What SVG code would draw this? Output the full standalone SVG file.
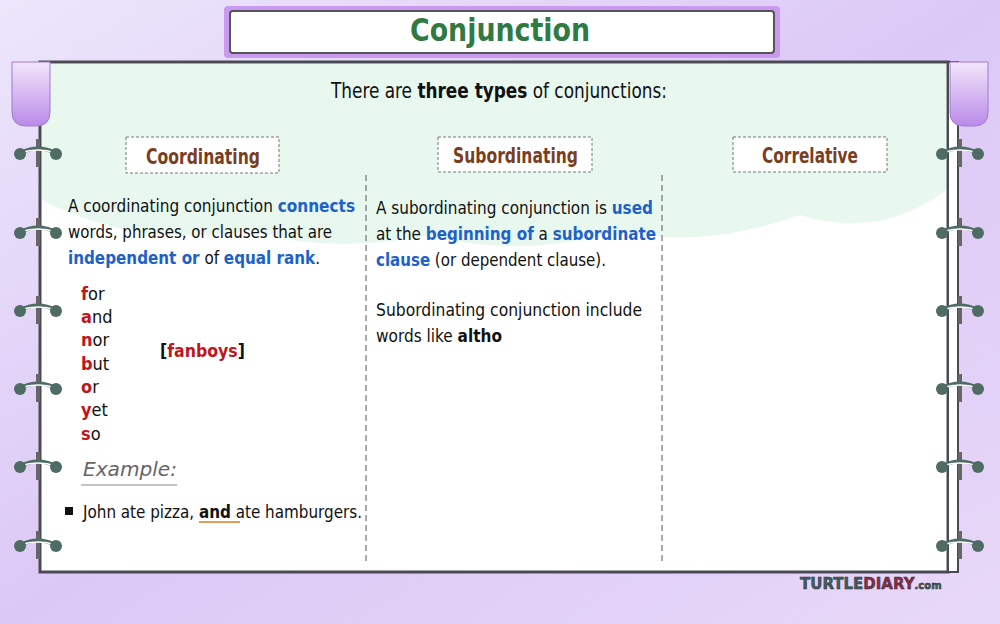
<svg xmlns="http://www.w3.org/2000/svg" width="1000" height="624" viewBox="0 0 1000 624">
<defs>
<linearGradient id="bg" x1="0" y1="0" x2="1" y2="1"><stop offset="0" stop-color="#ece6fb"/><stop offset="0.5" stop-color="#dcc8f6"/><stop offset="1" stop-color="#e8d8f8"/></linearGradient>
<linearGradient id="tab" x1="0" y1="0" x2="0" y2="1"><stop offset="0" stop-color="#f3e6fb"/><stop offset="1" stop-color="#b98ae8"/></linearGradient>
<g id="ring"><line x1="0" y1="-14" x2="0" y2="14" stroke="#666" stroke-width="4"/><path d="M-18 0 Q0 -9 18 0" fill="none" stroke="#4e6b64" stroke-width="4"/><path d="M-18 0 Q0 -6 18 0" fill="none" stroke="#fff" stroke-width="1.5"/><circle cx="-18" cy="1" r="6" fill="#4e6b64"/><circle cx="18" cy="1" r="6" fill="#4e6b64"/></g>
</defs>
<style>
text{font-family:"DejaVu Sans Condensed","Liberation Sans Narrow","Open Sans",sans-serif;font-size:18px;fill:#111}
.b{font-weight:bold}
.bl{fill:#1e62c8;font-weight:bold}
.r{fill:#c0151b;font-weight:bold}
.hd{font-size:21px;font-weight:bold;fill:#7a3e1f}
.box{fill:#fff;stroke:#777;stroke-width:1;stroke-dasharray:3 2}
.div{stroke:#555;stroke-width:1;stroke-dasharray:6 4}
</style>
<rect width="1000" height="624" fill="url(#bg)"/>
<g id="page">
<rect x="40" y="62" width="908" height="510" fill="#fff" stroke="#4a4a55" stroke-width="3"/>
<rect x="948" y="62" width="10" height="510" fill="#fff" stroke="#4a4a55" stroke-width="2"/>
<path d="M42 64 H946 V190 Q880 240 800 215 Q700 250 620 230 Q520 260 430 235 Q330 255 250 230 Q140 250 42 200 Z" fill="#e8f8ef"/>
</g>
<g id="tabs">
<path d="M12 62 H50 V112 Q50 126 36 126 H26 Q12 126 12 112 Z" fill="url(#tab)" stroke="#a07ad0"/>
<path d="M950 62 H988 V112 Q988 126 974 126 H964 Q950 126 950 112 Z" fill="url(#tab)" stroke="#a07ad0"/>
</g>
<g id="rings">
<use href="#ring" x="38" y="153"/><use href="#ring" x="38" y="232"/><use href="#ring" x="38" y="310"/><use href="#ring" x="38" y="388"/><use href="#ring" x="38" y="466"/><use href="#ring" x="38" y="545"/>
<use href="#ring" x="960" y="153"/><use href="#ring" x="960" y="232"/><use href="#ring" x="960" y="310"/><use href="#ring" x="960" y="388"/><use href="#ring" x="960" y="466"/><use href="#ring" x="960" y="545"/>
</g>
<g id="title">
<rect x="224" y="6" width="556" height="52" rx="4" fill="#c99af0"/>
<rect x="230" y="11" width="544" height="42" rx="3" fill="#fff" stroke="#555" stroke-width="2"/>
<text x="410" y="41" textLength="180" lengthAdjust="spacingAndGlyphs" style="font-size:32px;font-weight:bold;fill:#2f7a43">Conjunction</text>
</g>
<text x="331" y="98" textLength="336" lengthAdjust="spacingAndGlyphs" style="font-size:21px">There are <tspan class="b">three types</tspan> of conjunctions:</text>
<g id="coordinating"><rect class="box" x="126" y="137" width="153" height="36"/><text class="hd" x="146" y="164" textLength="114" lengthAdjust="spacingAndGlyphs">Coordinating</text></g>
<g id="subordinating"><rect class="box" x="438" y="137" width="154" height="35"/><text class="hd" x="453" y="163" textLength="125" lengthAdjust="spacingAndGlyphs">Subordinating</text></g>
<g id="correlative"><rect class="box" x="733" y="137" width="154" height="35"/><text class="hd" x="762" y="163" textLength="96" lengthAdjust="spacingAndGlyphs">Correlative</text></g>
<g id="connectors"><line class="div" x1="366" y1="175" x2="366" y2="565"/><line class="div" x1="662" y1="175" x2="662" y2="565"/></g>
<text x="68" y="212" textLength="287" lengthAdjust="spacingAndGlyphs">A coordinating conjunction <tspan class="bl">connects</tspan></text>
<text x="68" y="238" textLength="264" lengthAdjust="spacingAndGlyphs">words, phrases, or clauses that are</text>
<text x="68" y="264" textLength="252" lengthAdjust="spacingAndGlyphs"><tspan class="bl">independent or</tspan> of <tspan class="bl">equal rank</tspan>.</text>
<text x="81" y="300"><tspan class="r">f</tspan>or</text>
<text x="81" y="323"><tspan class="r">a</tspan>nd</text>
<text x="81" y="346"><tspan class="r">n</tspan>or</text>
<text x="81" y="370"><tspan class="r">b</tspan>ut</text>
<text x="81" y="393"><tspan class="r">o</tspan>r</text>
<text x="81" y="416"><tspan class="r">y</tspan>et</text>
<text x="81" y="440"><tspan class="r">s</tspan>o</text>
<text x="160" y="357" class="b" textLength="85" lengthAdjust="spacingAndGlyphs">[<tspan class="r">fanboys</tspan>]</text>
<text x="83" y="476" textLength="94" lengthAdjust="spacingAndGlyphs" style="font-style:italic;fill:#666;font-size:20px">Example:</text>
<line x1="81" y1="485" x2="177" y2="485" stroke="#888" stroke-width="1"/>
<rect x="65" y="507" width="8" height="8" fill="#111"/>
<text x="83" y="518" textLength="279" lengthAdjust="spacingAndGlyphs">John ate pizza, <tspan class="b">and</tspan> ate hamburgers.</text>
<line x1="199" y1="522" x2="240" y2="522" stroke="#e07b20" stroke-width="1.5"/>
<text x="376" y="214" textLength="277" lengthAdjust="spacingAndGlyphs">A subordinating conjunction is <tspan class="bl">used</tspan></text>
<text x="376" y="240" textLength="280" lengthAdjust="spacingAndGlyphs">at the <tspan class="bl">beginning of</tspan> a <tspan class="bl">subordinate</tspan></text>
<text x="376" y="266" textLength="230" lengthAdjust="spacingAndGlyphs"><tspan class="bl">clause</tspan> (or dependent clause).</text>
<text x="376" y="316" textLength="266" lengthAdjust="spacingAndGlyphs">Subordinating conjunction include</text>
<text x="376" y="342" textLength="126" lengthAdjust="spacingAndGlyphs">words like <tspan class="b">altho</tspan></text>
<text x="800" y="589" style="font-family:'DejaVu Sans',sans-serif;font-size:15px;font-weight:900;fill:#3d5d63;stroke:#333;stroke-width:0.5">TURTLE<tspan style="fill:#8a2a4a">DIARY</tspan><tspan style="font-size:10px">.com</tspan></text>
</svg>
